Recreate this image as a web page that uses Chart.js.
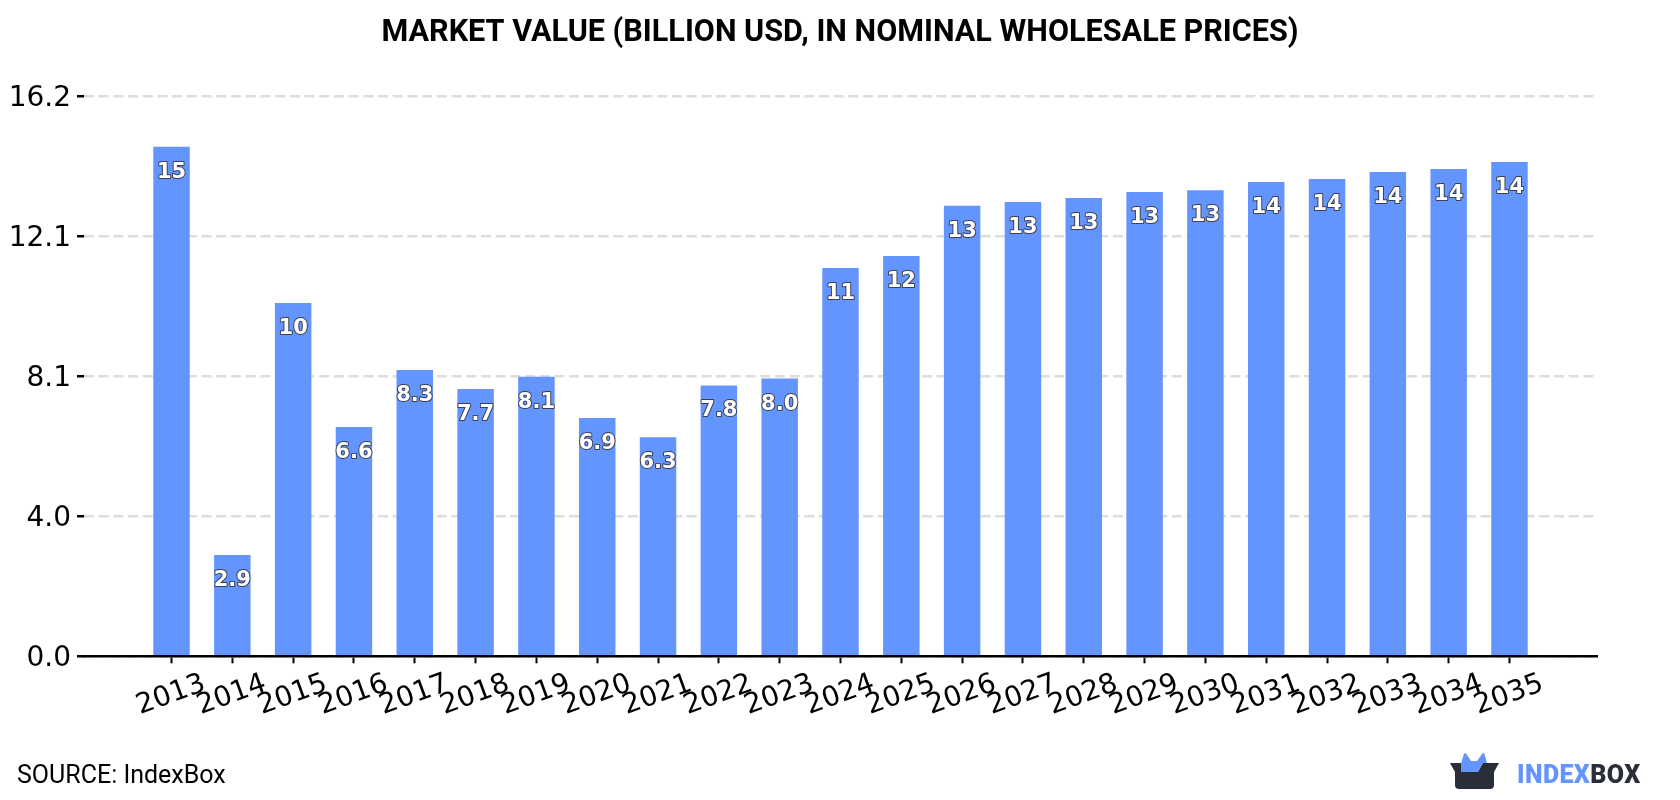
<!DOCTYPE html>
<html>
<head>
<meta charset="utf-8">
<title>Market value</title>
<script src="https://cdn.jsdelivr.net/npm/chart.js@4/dist/chart.umd.min.js"></script>
<style>
  html, body { margin: 0; padding: 0; background: #fff; }
  #wrap { position: relative; width: 1680px; height: 800px; overflow: hidden; }
  canvas { display: block; }
  #source { position: absolute; left: 17px; top: 760px; font: 25px Roboto, sans-serif; color: #000; white-space: nowrap; }
  #logo { position: absolute; left: 1440px; top: 740px; }
</style>
</head>
<body>
<div id="wrap">
  <canvas id="chart" width="1680" height="800"></canvas>
  <div id="source">SOURCE: IndexBox</div>
  <svg id="logo" width="220" height="60" viewBox="0 0 220 60">
    <path d="M21 23 L24 14 Q25 12 26.5 14 L31 21 L37 21 L42 14 Q43.5 12 44.5 14 L47 23 L43 23 L38 32 L21 32 Z" fill="#6495ff"/>
    <path d="M10 23 L21 23 L21 32 L38 32 L43 23 L59 23 L54 32 L54 45 Q54 49 50 49 L19 49 Q15 49 15 45 L15 32 Z" fill="#2a2d3a"/>
    <text x="77" y="43" font-family="Roboto, sans-serif" font-weight="900" font-size="25" letter-spacing="0.4" fill="#6495ff">INDEX<tspan fill="#2a2d3a">BOX</tspan></text>
  </svg>
</div>
<script>
// Market value series, billion USD
const years = [2013, 2014, 2015, 2016, 2017, 2018, 2019, 2020, 2021, 2022, 2023, 2024,
               2025, 2026, 2027, 2028, 2029, 2030, 2031, 2032, 2033, 2034, 2035];
const marketValue = [14.75, 2.93, 10.23, 6.64, 8.29, 7.74, 8.09, 6.9, 6.34, 7.84, 8.04, 11.24,
                     11.59, 13.04, 13.15, 13.27, 13.44, 13.49, 13.73, 13.82, 14.02, 14.11, 14.31];
const yTickValues = [0, 4.05, 8.1, 12.15, 16.2];
const yTickLabels = ['0.0', '4.0', '8.1', '12.1', '16.2'];
const titleText = 'MARKET VALUE (BILLION USD, IN NOMINAL WHOLESALE PRICES)';

// Outlined value labels placed just inside the top of each bar
const barLabels = {
  id: 'barLabels',
  afterDatasetsDraw(chart) {
    const { ctx } = chart;
    const meta = chart.getDatasetMeta(0);
    ctx.save();
    ctx.font = 'bold 21px "DejaVu Sans"';
    ctx.textAlign = 'center';
    ctx.textBaseline = 'middle';
    ctx.lineJoin = 'round';
    meta.data.forEach((bar, i) => {
      const text = marketValue[i].toPrecision(2);
      ctx.lineWidth = 2;
      ctx.strokeStyle = '#3c4050';
      ctx.strokeText(text, bar.x, bar.y + 25.5);
      ctx.fillStyle = '#fff';
      ctx.fillText(text, bar.x, bar.y + 25.5);
    });
    ctx.restore();
  }
};

// Centre the title on the full canvas rather than on the padded layout box
const fullWidthTitle = {
  id: 'fullWidthTitle',
  afterLayout(chart) {
    chart.titleBlock.left = 0;
    chart.titleBlock.right = chart.width;
  }
};

new Chart(document.getElementById('chart'), {
  type: 'bar',
  plugins: [barLabels, fullWidthTitle],
  data: {
    datasets: [{
      data: years.map((year, i) => ({ x: year, y: marketValue[i] })),
      backgroundColor: '#6495ff',
      borderWidth: 0,
      barPercentage: 0.6,
      categoryPercentage: 1
    }]
  },
  options: {
    responsive: false,
    animation: false,
    layout: { padding: { top: 0, right: 83, bottom: 0, left: 0 } },
    plugins: {
      legend: { display: false },
      tooltip: { enabled: false },
      title: {
        display: true,
        text: titleText,
        color: '#000',
        font: { family: 'Roboto', size: 30.6, weight: 'bold' },
        padding: { top: 15, bottom: 45 }
      }
    },
    scales: {
      x: {
        type: 'linear',
        offset: false,
        min: 2011.561,
        max: 2036.439,
        afterBuildTicks(scale) { scale.ticks = years.map(value => ({ value })); },
        afterFit(scale) { scale.height = 143.7; },
        grid: { offset: false, drawOnChartArea: false, drawTicks: true, tickLength: 7, tickColor: '#000', tickWidth: 2 },
        border: { color: '#000', width: 2.5 },
        ticks: {
          autoSkip: false,
          minRotation: 20,
          maxRotation: 20,
          labelOffset: 33,
          padding: 4,
          color: '#000',
          font: { family: 'DejaVu Sans', size: 28 },
          callback: value => String(value)
        }
      },
      y: {
        min: 0,
        max: 16.2,
        afterBuildTicks(scale) { scale.ticks = yTickValues.map(value => ({ value })); },
        afterFit(scale) { scale.width = 84; },
        grid: {
          color: '#dddddd',
          lineWidth: 2.5,
          tickLength: 7,
          tickColor: '#000',
          tickWidth: 2.5
        },
        border: { display: false, dash: [10, 4.7] },
        ticks: {
          padding: 6,
          labelOffset: 2,
          color: '#000',
          font: { family: 'DejaVu Sans', size: 28 },
          callback: value => yTickLabels[yTickValues.indexOf(value)]
        }
      }
    }
  }
});
</script>
</body>
</html>
